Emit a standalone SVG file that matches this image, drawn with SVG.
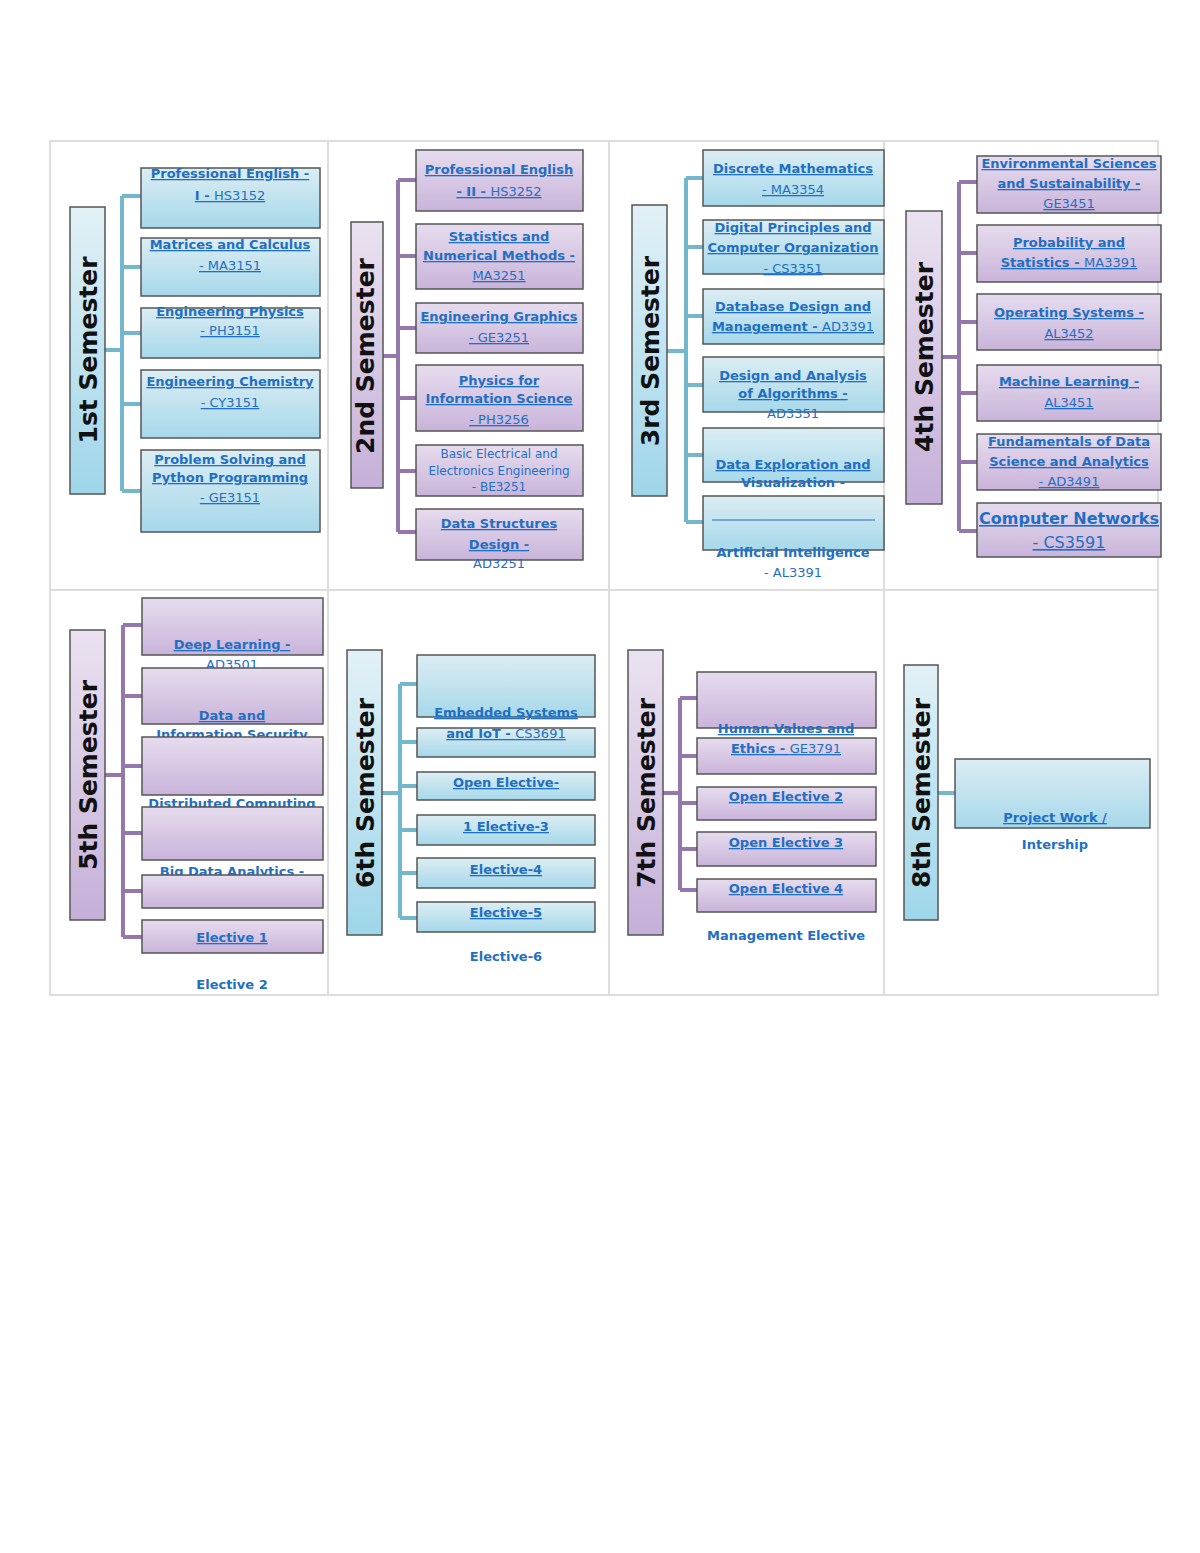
<svg xmlns="http://www.w3.org/2000/svg" width="1200" height="1553" viewBox="0 0 1200 1553">
<defs>
<linearGradient id="gc" x1="0" y1="0" x2="0" y2="1"><stop offset="0" stop-color="#dcedf3"/><stop offset="1" stop-color="#a6d8ea"/></linearGradient>
<linearGradient id="gp" x1="0" y1="0" x2="0" y2="1"><stop offset="0" stop-color="#e6dcee"/><stop offset="1" stop-color="#c9b4da"/></linearGradient>
<linearGradient id="gcl" x1="0" y1="0" x2="0" y2="1"><stop offset="0" stop-color="#e2f1f6"/><stop offset="1" stop-color="#9fd6ea"/></linearGradient>
<linearGradient id="gpl" x1="0" y1="0" x2="0" y2="1"><stop offset="0" stop-color="#eae2f0"/><stop offset="1" stop-color="#c5b0d8"/></linearGradient>
</defs>
<style>
.c{fill:url(#gc);stroke:#555;stroke-width:1.5}
.p{fill:url(#gp);stroke:#555;stroke-width:1.5}
.lc{fill:url(#gcl);stroke:#555;stroke-width:1.5}
.lp{fill:url(#gpl);stroke:#555;stroke-width:1.5}
.tc{stroke:#72b7cc;stroke-width:4;fill:none}
.tp{stroke:#9478ac;stroke-width:4;fill:none}
.t{font-family:"DejaVu Sans",sans-serif;font-size:13px;font-weight:bold;fill:#1f6fc5;text-anchor:middle;text-decoration:underline}
.n{font-weight:normal}
.s{font-family:"DejaVu Sans",sans-serif;font-size:25px;font-weight:bold;fill:#111;text-anchor:middle}
.g{stroke:#ddd;stroke-width:2;fill:none}
</style>
<rect width="1200" height="1553" fill="#fff"/>
<g id="grid" class="g"><rect x="50" y="141" width="1108" height="854"/><line x1="328" y1="141" x2="328" y2="995"/><line x1="609" y1="141" x2="609" y2="995"/><line x1="884" y1="141" x2="884" y2="995"/><line x1="50" y1="590" x2="1158" y2="590"/></g>
<g id="connectors">
<path class="tc" d="M105 350H122M122 196V491M122 196H141M122 267H141M122 333H141M122 404H141M122 491H141"/>
<path class="tp" d="M383 356H398M398 180V532M398 180H416M398 256H416M398 328H416M398 398H416M398 471H416M398 532H416"/>
<path class="tc" d="M667 351H686M686 178V522M686 178H703M686 247H703M686 316H703M686 385H703M686 455H703M686 522H703"/>
<path class="tp" d="M942 357H959M959 182V531M959 182H977M959 253H977M959 322H977M959 393H977M959 462H977M959 531H977"/>
<path class="tp" d="M105 775H123M123 625V937M123 625H142M123 696H142M123 766H142M123 833H142M123 891H142M123 937H142"/>
<path class="tc" d="M382 793H400M400 684V918M400 684H417M400 742H417M400 786H417M400 830H417M400 873H417M400 918H417"/>
<path class="tp" d="M663 793H680M680 698V890M680 698H697M680 756H697M680 803H697M680 849H697M680 890H697"/>
<path class="tc" d="M938 793H955"/>
</g>
<g id="sem1"><rect class="lc" x="70" y="207" width="35" height="287"/><text class="s" transform="translate(97,350) rotate(-90)">1st Semester</text></g>
<g id="s1a"><rect class="c" x="141" y="168" width="179" height="60"/><text class="t" x="230" y="178">Professional English -</text><text class="t" x="230" y="200">I - <tspan class="n">HS3152</tspan></text></g>
<g id="s1b"><rect class="c" x="141" y="238" width="179" height="58"/><text class="t" x="230" y="249">Matrices and Calculus</text><text class="t n" x="230" y="270">- MA3151</text></g>
<g id="s1c"><rect class="c" x="141" y="308" width="179" height="50"/><text class="t" x="230" y="316">Engineering Physics</text><text class="t n" x="230" y="335">- PH3151</text></g>
<g id="s1d"><rect class="c" x="141" y="370" width="179" height="68"/><text class="t" x="230" y="386">Engineering Chemistry</text><text class="t n" x="230" y="407">- CY3151</text></g>
<g id="s1e"><rect class="c" x="141" y="450" width="179" height="82"/><text class="t" x="230" y="464">Problem Solving and</text><text class="t" x="230" y="482">Python Programming</text><text class="t n" x="230" y="502">- GE3151</text></g>
<g id="sem2"><rect class="lp" x="351" y="222" width="32" height="266"/><text class="s" transform="translate(374,356) rotate(-90)">2nd Semester</text></g>
<g id="s2a"><rect class="p" x="416" y="150" width="167" height="61"/><text class="t" x="499" y="174">Professional English</text><text class="t" x="499" y="196">- II - <tspan class="n">HS3252</tspan></text></g>
<g id="s2b"><rect class="p" x="416" y="224" width="167" height="65"/><text class="t" x="499" y="241">Statistics and</text><text class="t" x="499" y="260">Numerical Methods -</text><text class="t n" x="499" y="280">MA3251</text></g>
<g id="s2c"><rect class="p" x="416" y="303" width="167" height="50"/><text class="t" x="499" y="321">Engineering Graphics</text><text class="t n" x="499" y="342">- GE3251</text></g>
<g id="s2d"><rect class="p" x="416" y="365" width="167" height="66"/><text class="t" x="499" y="385">Physics for</text><text class="t" x="499" y="403">Information Science</text><text class="t n" x="499" y="424">- PH3256</text></g>
<g id="s2e"><rect class="p" x="416" y="445" width="167" height="51"/><text class="t n" x="499" y="458" style="text-decoration:none;font-size:12px">Basic Electrical and</text><text class="t n" x="499" y="475" style="text-decoration:none;font-size:12px">Electronics Engineering</text><text class="t n" x="499" y="491" style="text-decoration:none;font-size:12px">- BE3251</text></g>
<g id="s2f"><rect class="p" x="416" y="509" width="167" height="51"/><text class="t" x="499" y="528">Data Structures</text><text class="t" x="499" y="549">Design -</text><text class="t n" x="499" y="568" style="text-decoration:none">AD3251</text></g>
<g id="sem3"><rect class="lc" x="632" y="205" width="35" height="291"/><text class="s" transform="translate(659,351) rotate(-90)">3rd Semester</text></g>
<g id="s3a"><rect class="c" x="703" y="150" width="181" height="56"/><text class="t" x="793" y="173">Discrete Mathematics</text><text class="t n" x="793" y="194">- MA3354</text></g>
<g id="s3b"><rect class="c" x="703" y="220" width="181" height="54"/><text class="t" x="793" y="232">Digital Principles and</text><text class="t" x="793" y="252">Computer Organization</text><text class="t n" x="793" y="273">- CS3351</text></g>
<g id="s3c"><rect class="c" x="703" y="289" width="181" height="55"/><text class="t" x="793" y="311">Database Design and</text><text class="t" x="793" y="331">Management - <tspan class="n">AD3391</tspan></text></g>
<g id="s3d"><rect class="c" x="703" y="357" width="181" height="55"/><text class="t" x="793" y="380">Design and Analysis</text><text class="t" x="793" y="398">of Algorithms -</text><text class="t n" x="793" y="418" style="text-decoration:none">AD3351</text></g>
<g id="s3e"><rect class="c" x="703" y="428" width="181" height="54"/><text class="t" x="793" y="469">Data Exploration and</text><text class="t" x="793" y="487" style="text-decoration:none">Visualization -</text><text class="t n" x="793" y="507" style="text-decoration:none">AD3301</text></g>
<g id="s3f"><rect class="c" x="703" y="496" width="181" height="54"/><line x1="712" y1="520" x2="875" y2="520" stroke="#1f6fc5"/><text class="t" x="793" y="557" style="text-decoration:none">Artificial Intelligence</text><text class="t n" x="793" y="577" style="text-decoration:none">- AL3391</text></g>
<g id="sem4"><rect class="lp" x="906" y="211" width="36" height="293"/><text class="s" transform="translate(933,357) rotate(-90)">4th Semester</text></g>
<g id="s4a"><rect class="p" x="977" y="156" width="184" height="57"/><text class="t" x="1069" y="168">Environmental Sciences</text><text class="t" x="1069" y="188">and Sustainability -</text><text class="t n" x="1069" y="208">GE3451</text></g>
<g id="s4b"><rect class="p" x="977" y="225" width="184" height="57"/><text class="t" x="1069" y="247">Probability and</text><text class="t" x="1069" y="267">Statistics - <tspan class="n">MA3391</tspan></text></g>
<g id="s4c"><rect class="p" x="977" y="294" width="184" height="56"/><text class="t" x="1069" y="317">Operating Systems -</text><text class="t n" x="1069" y="338">AL3452</text></g>
<g id="s4d"><rect class="p" x="977" y="365" width="184" height="56"/><text class="t" x="1069" y="386">Machine Learning -</text><text class="t n" x="1069" y="407">AL3451</text></g>
<g id="s4e"><rect class="p" x="977" y="434" width="184" height="56"/><text class="t" x="1069" y="446">Fundamentals of Data</text><text class="t" x="1069" y="466">Science and Analytics</text><text class="t n" x="1069" y="486">- AD3491</text></g>
<g id="s4f"><rect class="p" x="977" y="503" width="184" height="54"/><text class="t" x="1069" y="524" style="font-size:16px">Computer Networks</text><text class="t n" x="1069" y="548" style="font-size:16px">- CS3591</text></g>
<g id="sem5"><rect class="lp" x="70" y="630" width="35" height="290"/><text class="s" transform="translate(97,775) rotate(-90)">5th Semester</text></g>
<g id="s5a"><rect class="p" x="142" y="598" width="181" height="57"/><text class="t" x="232" y="649">Deep Learning -</text><text class="t n" x="232" y="669" style="text-decoration:none">AD3501</text></g>
<g id="s5b"><rect class="p" x="142" y="668" width="181" height="56"/><text class="t" x="232" y="720">Data and</text><text class="t" x="232" y="739" style="text-decoration:none">Information Security</text><text class="t n" x="232" y="758">- CW3551</text></g>
<g id="s5c"><rect class="p" x="142" y="737" width="181" height="58"/><text class="t" x="232" y="808" style="text-decoration:none">Distributed Computing</text><text class="t n" x="232" y="829">- CS3551</text></g>
<g id="s5d"><rect class="p" x="142" y="807" width="181" height="53"/><text class="t" x="232" y="876">Big Data Analytics -</text><text class="t n" x="232" y="895">CCS334</text></g>
<g id="s5e"><rect class="p" x="142" y="875" width="181" height="33"/><rect class="p" x="142" y="920" width="181" height="33"/><text class="t" x="232" y="942">Elective 1</text><text class="t" x="232" y="989" style="text-decoration:none">Elective 2</text></g>
<g id="sem6"><rect class="lc" x="347" y="650" width="35" height="285"/><text class="s" transform="translate(374,793) rotate(-90)">6th Semester</text></g>
<g id="s6a"><rect class="c" x="417" y="655" width="178" height="62"/><rect class="c" x="417" y="728" width="178" height="29"/><text class="t" x="506" y="717">Embedded Systems</text><text class="t" x="506" y="738">and IoT - <tspan class="n">CS3691</tspan></text></g>
<g id="s6b"><rect class="c" x="417" y="772" width="178" height="28"/><text class="t" x="506" y="787">Open Elective-</text></g>
<g id="s6c"><rect class="c" x="417" y="815" width="178" height="30"/><text class="t" x="506" y="831">1 Elective-3</text></g>
<g id="s6d"><rect class="c" x="417" y="858" width="178" height="30"/><text class="t" x="506" y="874">Elective-4</text></g>
<g id="s6e"><rect class="c" x="417" y="902" width="178" height="30"/><text class="t" x="506" y="917">Elective-5</text><text class="t" x="506" y="961" style="text-decoration:none">Elective-6</text></g>
<g id="sem7"><rect class="lp" x="628" y="650" width="35" height="285"/><text class="s" transform="translate(655,793) rotate(-90)">7th Semester</text></g>
<g id="s7a"><rect class="p" x="697" y="672" width="179" height="56"/><rect class="p" x="697" y="738" width="179" height="36"/><text class="t" x="786" y="733">Human Values and</text><text class="t" x="786" y="753">Ethics - <tspan class="n">GE3791</tspan></text></g>
<g id="s7b"><rect class="p" x="697" y="787" width="179" height="33"/><text class="t" x="786" y="801">Open Elective 2</text></g>
<g id="s7c"><rect class="p" x="697" y="832" width="179" height="34"/><text class="t" x="786" y="847">Open Elective 3</text></g>
<g id="s7d"><rect class="p" x="697" y="879" width="179" height="33"/><text class="t" x="786" y="893">Open Elective 4</text><text class="t" x="786" y="940" style="text-decoration:none">Management Elective</text></g>
<g id="sem8"><rect class="lc" x="904" y="665" width="34" height="255"/><text class="s" transform="translate(930,793) rotate(-90)">8th Semester</text></g>
<g id="s8a"><rect class="c" x="955" y="759" width="195" height="69"/><text class="t" x="1055" y="822">Project Work /</text><text class="t" x="1055" y="849" style="text-decoration:none">Intership</text></g>
</svg>
